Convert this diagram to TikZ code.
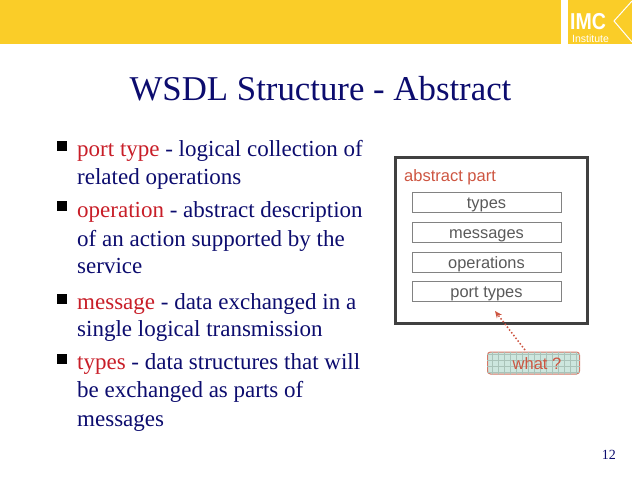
\documentclass[tikz,border=0pt]{standalone}
\usepackage{fontspec}
\setmainfont{Liberation Serif}
\newfontfamily\diagfont{Liberation Sans}
\usetikzlibrary{arrows.meta}
\definecolor{slideblue}{RGB}{12,12,110}
\definecolor{slidered}{RGB}{200,30,40}
\definecolor{imcyellow}{RGB}{250,205,40}
\definecolor{partred}{RGB}{205,85,65}
\definecolor{boxgrey}{RGB}{130,130,130}
\definecolor{whatfill}{RGB}{205,230,222}
\definecolor{whatgrid}{RGB}{170,195,185}
\tikzset{
  bodytext/.style={anchor=base west,inner sep=0pt,text=slideblue,font=\fontsize{23}{23}\selectfont},
  partbox/.style={draw=boxgrey,line width=1pt,minimum width=149pt,minimum height=20pt,inner sep=0pt,
    text height=15pt,text depth=3pt,text=black!65,font=\diagfont\fontsize{16.4}{16.4}\selectfont},
  bulletsq/.style={fill=black,minimum size=10pt,inner sep=0pt}
}
\newcommand{\hot}[1]{\textcolor{slidered}{#1}}
\begin{document}
\begin{tikzpicture}[x=1pt,y=-1pt]
  \useasboundingbox (0,0) rectangle (638,479);

  % logo
  \fill[imcyellow] (0,0) rectangle (561,44);
  \fill[imcyellow] (568,0) rectangle (632,44);
  \node[anchor=base west,inner sep=0pt,text=white,xscale=.85,font=\diagfont\bfseries\fontsize{23}{23}\selectfont] (imc) at (570,30) {IMC};
  \node[anchor=base west,inner sep=0pt,text=white,font=\diagfont\fontsize{10.5}{10.5}\selectfont] (institute) at (572,42) {Institute};
  \draw[white,line width=1pt] (632,1) -- (614,21) -- (632,42);

  \node[anchor=base,inner sep=0pt,text=slideblue,font=\fontsize{34.8}{34.8}\selectfont] (title) at (320.5,100) {WSDL Structure - Abstract};

  % bullets
  \foreach \y/\n in {146/a,206/b,299/c,359/d}
    \node[bulletsq] (bullet\n) at (62,\y) {};

  \node[bodytext] (l1) at (77,156) {\hot{port type} - logical collection of};
  \node[bodytext] (l2) at (77,184) {related operations};
  \node[bodytext] (l3) at (77,217) {\hot{operation} - abstract description};
  \node[bodytext] (l4) at (77,246) {of an action supported by the};
  \node[bodytext] (l5) at (77,273) {service};
  \node[bodytext] (l6) at (77,309) {\hot{message} - data exchanged in a};
  \node[bodytext] (l7) at (77,336) {single logical transmission};
  \node[bodytext] (l8) at (77,369) {\hot{types} - data structures that will};
  \node[bodytext] (l9) at (77,397) {be exchanged as parts of};
  \node[bodytext] (l10) at (77,426) {messages};

  % diagram
  \draw[black!75,line width=3pt] (395,157) rectangle (587,323);
  \node[anchor=base west,inner sep=0pt,text=partred,font=\diagfont\fontsize{16.5}{16.5}\selectfont] (part) at (404,181) {abstract part};
  \node[partbox] (types) at (486.5,202) {types};
  \node[partbox] (messages) at (486.5,232.5) {messages};
  \node[partbox] (operations) at (486.5,262) {operations};
  \node[partbox] (porttypes) at (486.5,291.5) {port types};

  \begin{scope}
    \node[draw=partred!80,fill=whatfill,rounded corners=3pt,line width=1pt,minimum width=92pt,minimum height=22pt,inner sep=0pt] (whatbox) at (533.5,363) {};
    \clip[rounded corners=3pt] (whatbox.south west) rectangle (whatbox.north east);
    \draw[step=6pt,whatgrid,line width=.4pt] (whatbox.south west) grid (whatbox.north east);
  \end{scope}
  \node[text=partred,inner sep=0pt,font=\diagfont\fontsize{16.5}{16.5}\selectfont] (what) at (537,364) {what ?};
  \coordinate (tip) at (495,311);
  \draw[-{Stealth[length=7pt,width=6pt]},partred,line width=1.5pt,dotted] (525,350) -- (tip);

  \node[anchor=base east,inner sep=0pt,text=slideblue,font=\fontsize{14}{14}\selectfont] (page) at (616,459) {12};
\end{tikzpicture}
\end{document}
